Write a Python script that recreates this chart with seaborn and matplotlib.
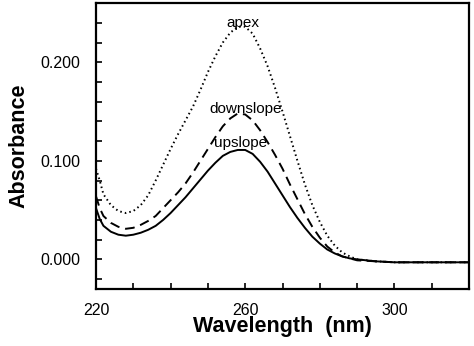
import numpy as np
import pandas as pd
import matplotlib
matplotlib.use("Agg")
import matplotlib.pyplot as plt
import seaborn as sns
from matplotlib.ticker import MultipleLocator, FormatStrFormatter

# wavelength grid (nm)
wavelength = [220, 221, 222, 224, 226, 228, 230, 232, 234, 236, 238, 240, 242, 244, 246,
              248, 250, 252, 254, 256, 258, 260, 262, 264, 266, 268, 270, 272, 274, 276,
              278, 280, 282, 284, 286, 288, 290, 295, 300, 310, 320]

# absorbance
upslope = [0.052, 0.041, 0.034, 0.028, 0.025, 0.024, 0.025, 0.027, 0.030, 0.034, 0.040,
           0.047, 0.055, 0.063, 0.072, 0.081, 0.090, 0.098, 0.105, 0.109, 0.111, 0.111,
           0.107, 0.099, 0.089, 0.077, 0.065, 0.053, 0.042, 0.032, 0.023, 0.016, 0.010,
           0.006, 0.003, 0.001, 0.000, -0.002, -0.003, -0.003, -0.003]
downslope = [0.064, 0.052, 0.044, 0.037, 0.033, 0.031, 0.032, 0.035, 0.039, 0.044, 0.052,
             0.060, 0.068, 0.077, 0.088, 0.100, 0.112, 0.124, 0.135, 0.143, 0.148, 0.147,
             0.141, 0.131, 0.119, 0.106, 0.092, 0.076, 0.061, 0.046, 0.033, 0.022, 0.013,
             0.007, 0.003, 0.001, -0.001, -0.002, -0.003, -0.003, -0.003]
apex = [0.092, 0.080, 0.066, 0.055, 0.049, 0.047, 0.049, 0.055, 0.065, 0.080, 0.096,
        0.112, 0.127, 0.141, 0.155, 0.172, 0.190, 0.206, 0.220, 0.230, 0.236, 0.236,
        0.229, 0.214, 0.196, 0.174, 0.150, 0.125, 0.100, 0.076, 0.055, 0.038, 0.024,
        0.014, 0.007, 0.003, 0.000, -0.002, -0.003, -0.003, -0.003]

x_ticks = [220, 260, 300]
y_ticks = [0.0, 0.1, 0.2]

# curve labels: (text, x, y)
labels = [("apex", 259.5, 0.240), ("downslope", 260.2, 0.153), ("upslope", 258.8, 0.118)]

sns.set_style("white")
plt.rcParams['font.family'] = ['Liberation Sans', 'DejaVu Sans']
plt.rcParams['text.color'] = 'black'
plt.rcParams['axes.labelcolor'] = 'black'
plt.rcParams['xtick.color'] = 'black'
plt.rcParams['ytick.color'] = 'black'

fig = plt.figure(figsize=(4.74, 3.46), dpi=100)
ax = fig.add_axes([0.2025, 0.165, 0.787, 0.826])

sns.lineplot(x=wavelength, y=upslope, ax=ax, color='black', linewidth=1.4)
sns.lineplot(x=wavelength, y=downslope, ax=ax, color='black', linewidth=1.4,
             linestyle=(0, (5, 3)))
sns.lineplot(x=wavelength, y=apex, ax=ax, color='black', linewidth=1.4,
             linestyle=(0, (0.8, 1.6)))

for txt, x, y in labels:
    ax.text(x, y, txt, ha='center', va='center', fontsize=11, fontweight='medium',
            color='black')

ax.set_xlim(220, 320)
ax.set_ylim(-0.030, 0.260)
ax.set_xticks(x_ticks)
ax.set_yticks(y_ticks)
ax.xaxis.set_minor_locator(MultipleLocator(10))
ax.yaxis.set_minor_locator(MultipleLocator(0.02))
ax.yaxis.set_major_formatter(FormatStrFormatter('%.3f'))

ax.tick_params(axis='both', which='both', direction='in', length=4, width=1.2,
               color='black', labelcolor='black', labelsize=11.5, top=False,
               right=False, bottom=True, left=True)
ax.tick_params(axis='y', pad=11)
ax.tick_params(axis='x', pad=10)

for sp in ax.spines.values():
    sp.set_color('black')
    sp.set_linewidth(1.6)

ax.set_xlabel('Wavelength  (nm)', fontsize=15.5, fontweight='bold', labelpad=-1,
              color='black')
ax.set_ylabel('Absorbance', fontsize=15.5, fontweight='bold', labelpad=8,
              color='black')

fig.savefig('out.png', dpi=100)
